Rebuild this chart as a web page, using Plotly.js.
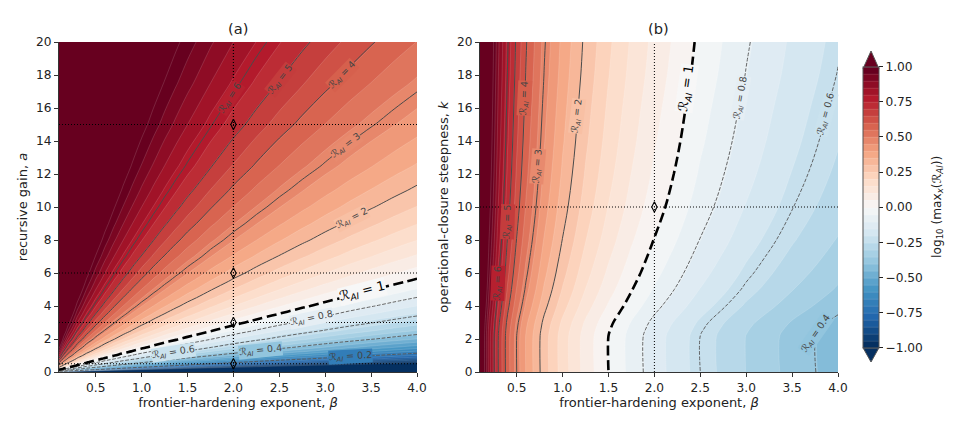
<!DOCTYPE html>
<html><head><meta charset="utf-8">
<script src="https://cdn.plot.ly/plotly-3.0.1.min.js"></script>
<style>html,body{margin:0;padding:0;background:#fff}</style></head>
<body><div id="chart" style="width:957px;height:426px"></div>
<script>
const betaValuesA = [0.1,0.15,0.2,0.3,0.4,0.5,0.6,0.7,0.8,0.9,1,1.125,1.25,1.375,1.5,1.75,2,2.25,2.5,2.75,3,3.25,3.5,3.75,4];
const gainValues = [0,0.05,0.1,0.15,0.2,0.3,0.4,0.5,0.6,0.8,1,1.25,1.5,2,2.5,3,3.5,4,4.5,5,5.5,6,7,8,9,10,11,12.5,15,17.5,20];
const logRPanelA = [
[-2.5,-2.5,-2.5,-2.5,-2.5,-2.5,-2.5,-2.5,-2.5,-2.5,-2.5,-2.5,-2.5,-2.5,-2.5,-2.5,-2.5,-2.5,-2.5,-2.5,-2.5,-2.5,-2.5,-2.5,-2.5],
[-.451,-.627,-.752,-.928,-1.053,-1.15,-1.229,-1.296,-1.354,-1.405,-1.451,-1.502,-1.548,-1.589,-1.627,-1.694,-1.752,-1.803,-1.849,-1.89,-1.928,-1.963,-1.995,-2.025,-2.053],
[-.15,-.326,-.451,-.627,-.752,-.849,-.928,-.995,-1.053,-1.104,-1.15,-1.201,-1.247,-1.288,-1.326,-1.393,-1.451,-1.502,-1.548,-1.589,-1.627,-1.662,-1.694,-1.724,-1.752],
[.026,-.15,-.275,-.451,-.576,-.673,-.752,-.819,-.877,-.928,-.974,-1.025,-1.071,-1.112,-1.15,-1.217,-1.275,-1.326,-1.372,-1.413,-1.451,-1.486,-1.518,-1.548,-1.576],
[.151,-.025,-.15,-.326,-.451,-.548,-.627,-.694,-.752,-.803,-.849,-.9,-.946,-.987,-1.025,-1.092,-1.15,-1.201,-1.247,-1.288,-1.326,-1.361,-1.393,-1.423,-1.451],
[.327,.151,.026,-.15,-.275,-.372,-.451,-.518,-.576,-.627,-.673,-.724,-.77,-.811,-.849,-.916,-.974,-1.025,-1.071,-1.112,-1.15,-1.185,-1.217,-1.247,-1.275],
[.452,.276,.151,-.025,-.15,-.247,-.326,-.393,-.451,-.502,-.548,-.599,-.645,-.686,-.724,-.791,-.849,-.9,-.946,-.987,-1.025,-1.06,-1.092,-1.122,-1.15],
[.549,.373,.248,.072,-.053,-.15,-.229,-.296,-.354,-.405,-.451,-.502,-.548,-.589,-.627,-.694,-.752,-.803,-.849,-.89,-.928,-.963,-.995,-1.025,-1.053],
[.628,.452,.327,.151,.026,-.071,-.15,-.217,-.275,-.326,-.372,-.423,-.469,-.51,-.548,-.615,-.673,-.724,-.77,-.811,-.849,-.884,-.916,-.946,-.974],
[.753,.577,.452,.276,.151,.054,-.025,-.092,-.15,-.201,-.247,-.298,-.344,-.385,-.423,-.49,-.548,-.599,-.645,-.686,-.724,-.759,-.791,-.821,-.849],
[.85,.674,.549,.373,.248,.151,.072,.005,-.053,-.104,-.15,-.201,-.247,-.288,-.326,-.393,-.451,-.502,-.548,-.589,-.627,-.662,-.694,-.724,-.752],
[.947,.771,.646,.47,.345,.248,.169,.102,.044,-.007,-.053,-.104,-.15,-.191,-.229,-.296,-.354,-.405,-.451,-.492,-.53,-.565,-.597,-.627,-.655],
[1.026,.85,.725,.549,.424,.327,.248,.181,.123,.072,.026,-.025,-.071,-.112,-.15,-.217,-.275,-.326,-.372,-.413,-.451,-.486,-.518,-.548,-.576],
[1.151,.975,.85,.674,.549,.452,.373,.306,.248,.197,.151,.1,.054,.013,-.025,-.092,-.15,-.201,-.247,-.288,-.326,-.361,-.393,-.423,-.451],
[1.248,1.072,.947,.771,.646,.549,.47,.403,.345,.294,.248,.197,.151,.11,.072,.005,-.053,-.104,-.15,-.191,-.229,-.264,-.296,-.326,-.354],
[1.327,1.151,1.026,.85,.725,.628,.549,.482,.424,.373,.327,.276,.23,.189,.151,.084,.026,-.025,-.071,-.112,-.15,-.185,-.217,-.247,-.275],
[1.394,1.218,1.093,.917,.792,.695,.616,.549,.491,.44,.394,.343,.297,.256,.218,.151,.093,.042,-.004,-.045,-.083,-.118,-.15,-.18,-.208],
[1.452,1.276,1.151,.975,.85,.753,.674,.607,.549,.498,.452,.401,.355,.314,.276,.209,.151,.1,.054,.013,-.025,-.06,-.092,-.122,-.15],
[1.503,1.327,1.202,1.026,.901,.804,.725,.658,.6,.549,.503,.452,.406,.365,.327,.26,.202,.151,.105,.064,.026,-.009,-.041,-.071,-.099],
[1.549,1.373,1.248,1.072,.947,.85,.771,.704,.646,.595,.549,.498,.452,.411,.373,.306,.248,.197,.151,.11,.072,.037,.005,-.025,-.053],
[1.59,1.414,1.289,1.113,.988,.891,.812,.745,.687,.636,.59,.539,.493,.452,.414,.347,.289,.238,.192,.151,.113,.078,.046,.016,-.012],
[1.628,1.452,1.327,1.151,1.026,.929,.85,.783,.725,.674,.628,.577,.531,.49,.452,.385,.327,.276,.23,.189,.151,.116,.084,.054,.026],
[1.695,1.519,1.394,1.218,1.093,.996,.917,.85,.792,.741,.695,.644,.598,.557,.519,.452,.394,.343,.297,.256,.218,.183,.151,.121,.093],
[1.753,1.577,1.452,1.276,1.151,1.054,.975,.908,.85,.799,.753,.702,.656,.615,.577,.51,.452,.401,.355,.314,.276,.241,.209,.179,.151],
[1.804,1.628,1.503,1.327,1.202,1.105,1.026,.959,.901,.85,.804,.753,.707,.666,.628,.561,.503,.452,.406,.365,.327,.292,.26,.23,.202],
[1.85,1.674,1.549,1.373,1.248,1.151,1.072,1.005,.947,.896,.85,.799,.753,.712,.674,.607,.549,.498,.452,.411,.373,.338,.306,.276,.248],
[1.891,1.715,1.59,1.414,1.289,1.192,1.113,1.046,.988,.937,.891,.84,.794,.753,.715,.648,.59,.539,.493,.452,.414,.379,.347,.317,.289],
[1.947,1.771,1.646,1.47,1.345,1.248,1.169,1.102,1.044,.993,.947,.896,.85,.809,.771,.704,.646,.595,.549,.508,.47,.435,.403,.373,.345],
[2.026,1.85,1.725,1.549,1.424,1.327,1.248,1.181,1.123,1.072,1.026,.975,.929,.888,.85,.783,.725,.674,.628,.587,.549,.514,.482,.452,.424],
[2.093,1.917,1.792,1.616,1.491,1.394,1.315,1.248,1.19,1.139,1.093,1.042,.996,.955,.917,.85,.792,.741,.695,.654,.616,.581,.549,.519,.491],
[2.151,1.975,1.85,1.674,1.549,1.452,1.373,1.306,1.248,1.197,1.151,1.1,1.054,1.013,.975,.908,.85,.799,.753,.712,.674,.639,.607,.577,.549]
];
const betaValuesB = [0.1,0.15,0.2,0.3,0.4,0.5,0.6,0.8,1,1.25,1.5,1.75,2,2.5,3,3.5,4];
const steepnessValues = [0,2.2,2.6,3,4,5,6,7,8,10,12,14,16,18,20];
const logRPanelB = [
[1.176,1,.875,.699,.574,.477,.398,.273,.176,.079,0,-.067,-.125,-.222,-.301,-.368,-.426],
[1.176,1,.875,.699,.574,.477,.398,.273,.176,.079,0,-.067,-.125,-.222,-.301,-.368,-.426],
[1.182,1.006,.881,.705,.58,.483,.404,.279,.182,.085,.006,-.061,-.119,-.216,-.295,-.362,-.42],
[1.19,1.014,.889,.713,.588,.491,.412,.287,.19,.093,.014,-.053,-.111,-.208,-.287,-.354,-.412],
[1.22,1.044,.919,.743,.618,.521,.442,.317,.22,.123,.044,-.023,-.081,-.178,-.257,-.324,-.382],
[1.246,1.07,.945,.769,.644,.547,.468,.343,.246,.149,.07,.003,-.055,-.152,-.231,-.298,-.356],
[1.266,1.09,.965,.789,.664,.567,.488,.363,.266,.169,.09,.023,-.035,-.132,-.211,-.278,-.336],
[1.283,1.107,.982,.806,.681,.584,.505,.38,.283,.186,.107,.04,-.018,-.115,-.194,-.261,-.319],
[1.299,1.123,.998,.822,.697,.6,.521,.396,.299,.202,.123,.056,-.002,-.099,-.178,-.245,-.303],
[1.324,1.148,1.023,.847,.722,.625,.546,.421,.324,.227,.148,.081,.023,-.074,-.153,-.22,-.278],
[1.342,1.166,1.041,.865,.74,.643,.564,.439,.342,.245,.166,.099,.041,-.056,-.135,-.202,-.26],
[1.356,1.18,1.055,.879,.754,.657,.578,.453,.356,.259,.18,.113,.055,-.042,-.121,-.188,-.246],
[1.367,1.191,1.066,.89,.765,.668,.589,.464,.367,.27,.191,.124,.066,-.031,-.11,-.177,-.235],
[1.378,1.202,1.077,.901,.776,.679,.6,.475,.378,.281,.202,.135,.077,-.02,-.099,-.166,-.224],
[1.386,1.21,1.085,.909,.784,.687,.608,.483,.386,.289,.21,.143,.085,-.012,-.091,-.158,-.216]
];
const contourR = ["0.2","0.4","0.6","0.8","1","2","3","4","5","6"];
const contourLogR = [-.699,-.398,-.222,-.097,0,.301,.477,.602,.699,.778];
const labelFill = ["#327db8","#92c5de","#cae2ee","#e5eef4","#f7f7f7","#f8c0a4","#e88a6e","#d6604d","#c43c3c","#b6202f"];
const scenarioBeta = [2,2,2,2];
const scenarioGain = [15,6,3,0.5];
const scenarioBetaB = [2];
const scenarioSteepness = [10];
const cbTicks = [-1,-0.75,-0.5,-0.25,0,0.25,0.5,0.75,1];

// matplotlib RdBu_r anchors, placed so a band takes the colour of its midpoint
const rdbu = [[0,"#053061"],[.0122,"#053061"],[.1098,"#2166ac"],[.2073,"#4393c3"],[.3049,"#92c5de"],[.4024,"#d1e5f0"],[.5,"#f7f7f7"],[.5976,"#fddbc7"],[.6951,"#f4a582"],[.7927,"#d6604d"],[.8902,"#b2182b"],[.9878,"#67001f"],[1,"#67001f"]];

const FONT = "DejaVu Sans";
const TXT = 12.2;
const TITLE = 13;
const seam = {color:"rgba(255,255,255,0.28)",width:0.5,smoothing:1};
const fillContour = (x,y,z,xa,ya,scale) => ({type:"contour",x,y,z,xaxis:xa,yaxis:ya,autocontour:false,
  contours:{start:-1,end:1,size:0.05,coloring:"fill",showlines:true},line:seam,colorscale:rdbu,
  zmin:-1,zmax:1,hoverinfo:"skip",showscale:scale,
  colorbar:{x:1.0321,xanchor:"left",xpad:0,ypad:0,y:0.4994,yanchor:"middle",len:0.8515,lenmode:"fraction",
    thickness:16,thicknessmode:"pixels",outlinecolor:"#555",outlinewidth:1,
    tickvals:cbTicks,tickformat:".2f",ticks:"outside",ticklen:4,tickwidth:1,tickcolor:"#222",
    tickfont:{family:FONT,size:TXT,color:"#222"}}});
const lineStyle = r => r==="1" ? {color:"#000",width:2.6,dash:"10px,4.5px",smoothing:1}
  : (+r<1 ? {color:"#555",width:0.9,dash:"3.7px,1.6px",smoothing:1} : {color:"#4a4a4a",width:1,smoothing:1});
const levelTraces = (x,y,z,xa,ya) => contourR.map((r,i)=>({type:"contour",x,y,z,xaxis:xa,yaxis:ya,autocontour:false,
  contours:{start:contourLogR[i],end:contourLogR[i],size:1,coloring:"none",showlabels:false},
  line:lineStyle(r),showscale:false,hoverinfo:"skip"}));
const markers = (x,y,xa,ya) => ({type:"scatter",mode:"markers",x,y,xaxis:xa,yaxis:ya,hoverinfo:"skip",cliponaxis:false,
  marker:{symbol:"diamond-tall-open",size:7.5,color:"#000",line:{color:"#000",width:1.1}}});

const data = [
  fillContour(betaValuesA,gainValues,logRPanelA,"x","y",true),
  fillContour(betaValuesB,steepnessValues,logRPanelB,"x2","y2",false),
  ...levelTraces(betaValuesA,gainValues,logRPanelA,"x","y"),
  ...levelTraces(betaValuesB,steepnessValues,logRPanelB,"x2","y2"),
  markers(scenarioBeta,scenarioGain,"x","y"),
  markers(scenarioBetaB,scenarioSteepness,"x2","y2")
];

const dotted = (xa,ya,x0,x1,y0,y1,w) => ({type:"line",xref:xa,yref:ya,x0,x1,y0,y1,layer:"above",line:{color:"#000",width:w,dash:"1px,2px"}});
const shapes = [
  dotted("x","y",2,2,0,20,1.2),
  ...scenarioGain.map(g=>dotted("x","y",0.1,4,g,g,1.2)),
  dotted("x2","y2",2,2,0,20,1),
  dotted("x2","y2",0.1,4,10,10,1),
  {type:"path",xref:"paper",yref:"paper",path:"M1.0321,.9191 L1.0424,.9727 L1.0526,.9191 Z",fillcolor:"#67001f",line:{color:"#555",width:1}},
  {type:"path",xref:"paper",yref:"paper",path:"M1.0321,.0736 L1.0424,.0303 L1.0526,.0736 Z",fillcolor:"#053061",line:{color:"#555",width:1}}
];

const lab = (xa,ya,x,y,i,ang) => ({xref:xa,yref:ya,x,y,xanchor:"center",yanchor:"middle",text:"<i>ℛ<sub>AI</sub></i> = "+contourR[i],textangle:ang,showarrow:false,
  bgcolor:labelFill[i],borderpad:0,font:{family:FONT,size:contourR[i]==="1"?13:9.5,color:contourR[i]==="1"?"#000":"#444"}});
const annotations = [
  lab("x","y",1.96,16.6,9,-57), lab("x","y",2.51,17.75,8,-52), lab("x","y",3.18,18,7,-45.5),
  lab("x","y",3.23,13.7,6,-37), lab("x","y",3.29,9.3,5,-27), lab("x","y",3.41,4.85,4,-14),
  lab("x","y",2.85,3.25,3,-11.5), lab("x","y",1.35,1.16,2,-8.7), lab("x","y",2.3,1.32,1,-5.8), lab("x","y",3.28,0.95,0,-3),
  lab("x2","y2",2.35,17.2,4,-82), lab("x2","y2",2.935,16.6,3,-80), lab("x2","y2",3.87,15.6,2,-75),
  lab("x2","y2",3.76,2.35,1,-55), lab("x2","y2",1.155,15.5,5,-83), lab("x2","y2",0.73,12.45,6,-85),
  lab("x2","y2",0.58,16.6,7,-87), lab("x2","y2",0.405,9.1,8,-88), lab("x2","y2",0.3,5.4,9,-88),
  {xref:"paper",yref:"paper",x:0.2298,xanchor:"center",y:1.01,yanchor:"bottom",text:"(a)",showarrow:false,font:{family:FONT,size:14.6,color:"#222"}},
  {xref:"paper",yref:"paper",x:0.7702,xanchor:"center",y:1.01,yanchor:"bottom",text:"(b)",showarrow:false,font:{family:FONT,size:14.6,color:"#222"}},
  {xref:"paper",yref:"paper",x:1.128,xanchor:"center",y:0.4994,yanchor:"middle",textangle:-90,showarrow:false,
   text:"log<sub>10</sub> (max<sub><i>x</i></sub>(<i>ℛ<sub>AI</sub></i>))",font:{family:FONT,size:TXT,color:"#222"}}
];

const xAxis = extra => Object.assign({range:[0.1,4],tickvals:[0.5,1,1.5,2,2.5,3,3.5,4],tickformat:".1f",showgrid:false,zeroline:false,
  showline:true,linecolor:"#333",linewidth:1,ticks:"outside",ticklen:4,tickwidth:1,tickcolor:"#333",
  tickfont:{family:FONT,size:TXT,color:"#222"},
  title:{text:"frontier-hardening exponent, <i>β</i>",font:{family:FONT,size:TITLE,color:"#222"},standoff:3}},extra);
const yAxis = (title,extra) => Object.assign({range:[0,20],tickvals:[0,2,4,6,8,10,12,14,16,18,20],showgrid:false,zeroline:false,
  showline:true,linecolor:"#333",linewidth:1,ticks:"outside",ticklen:4,tickwidth:1,tickcolor:"#333",
  tickfont:{family:FONT,size:TXT,color:"#222"},
  title:{text:title,font:{family:FONT,size:TITLE,color:"#222"},standoff:5}},extra);

const layout = {width:957,height:426,margin:{l:59,r:119.3,t:42,b:54,autoexpand:false},paper_bgcolor:"#fff",plot_bgcolor:"#fff",
  showlegend:false,font:{family:FONT,color:"#222"},
  xaxis:xAxis({domain:[0,0.4596],anchor:"y"}),
  yaxis:yAxis("recursive gain, <i>a</i>",{anchor:"x"}),
  xaxis2:xAxis({domain:[0.5404,1],anchor:"y2"}),
  yaxis2:yAxis("operational-closure steepness, <i>k</i>",{anchor:"x2"}),
  shapes,annotations};
Plotly.newPlot("chart",data,layout,{displayModeBar:false,staticPlot:true});
</script></body></html>
